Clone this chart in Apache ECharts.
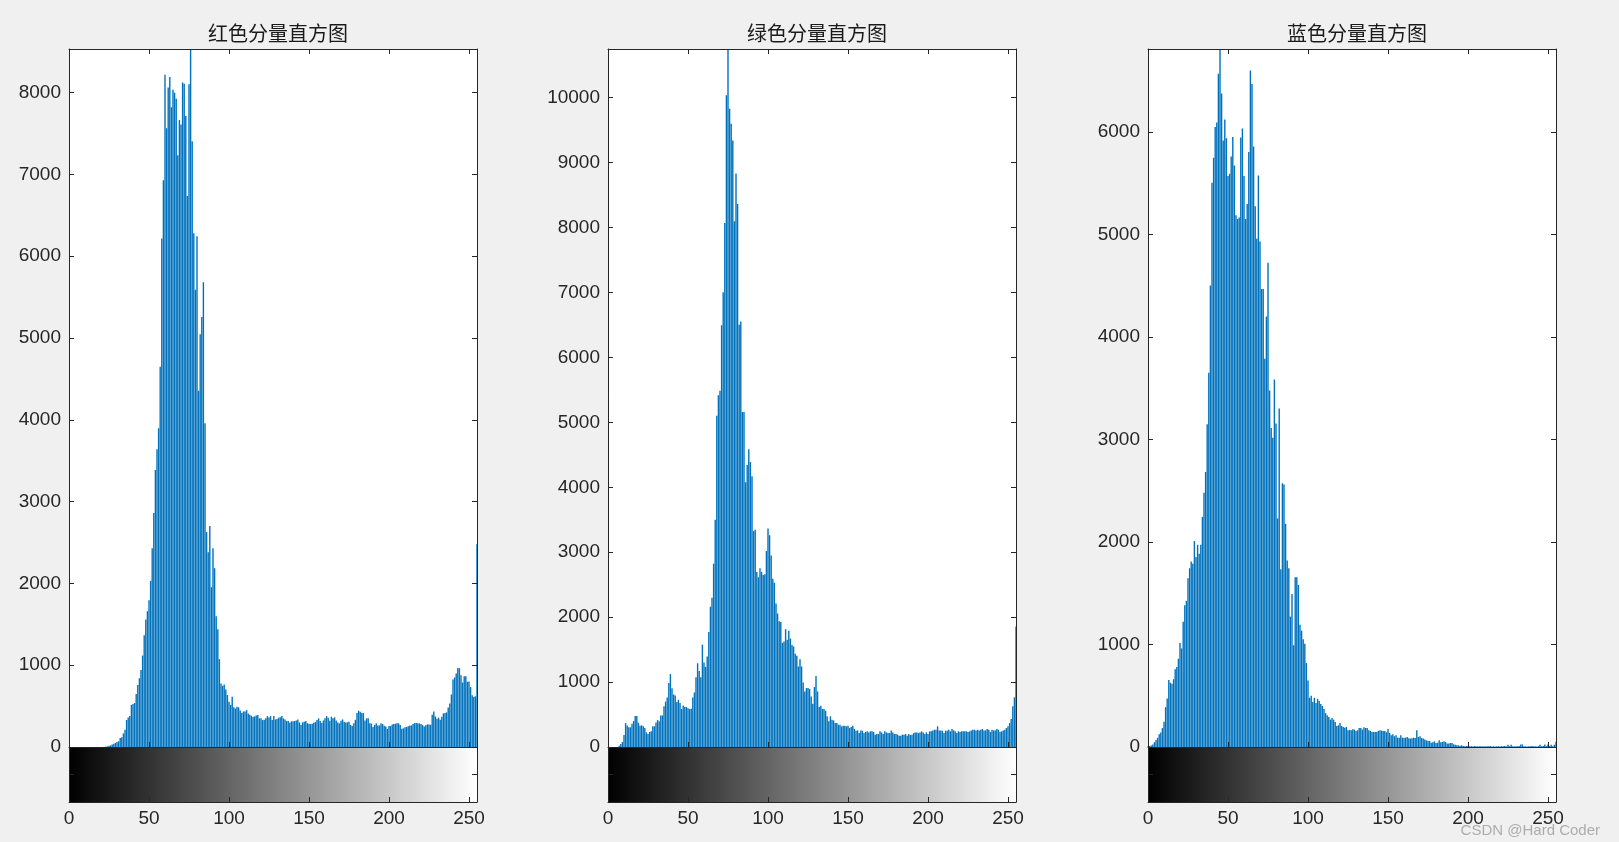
<!DOCTYPE html>
<html>
<head>
<meta charset="utf-8">
<script src="https://cdn.jsdelivr.net/npm/echarts@6/dist/echarts.min.js"></script>
<style>
  html, body { margin: 0; padding: 0; background: #f0f0f0; }
  #chart { width: 1619px; height: 842px; }
</style>
</head>
<body>
<div id="chart"></div>
<script>
const panelTitles = ["红色分量直方图", "绿色分量直方图", "蓝色分量直方图"];

// pixel counts per gray level 0..255
const redCounts = [
  0, 0, 0, 0, 0, 0, 0, 0, 0, 0,
  0, 0, 0, 0, 0, 0, 0, 0, 0, 0,
  0, 0, 0, 3, 8, 14, 20, 30, 40, 50,
  60, 70, 110, 120, 166, 210, 330, 360, 380, 515,
  525, 537, 647, 758, 841, 940, 1118, 1367, 1560, 1660,
  1793, 2031, 2429, 2861, 3387, 3641, 3896, 4649, 6215, 6929,
  8218, 7565, 8063, 8190, 7820, 8036, 7997, 7925, 7233, 7665,
  7609, 8124, 8107, 7714, 6735, 8102, 9300, 7404, 6281, 5589,
  6243, 4355, 5047, 5257, 5683, 3957, 2629, 2380, 2701, 1954,
  2430, 2186, 1599, 1439, 1074, 775, 747, 764, 703, 636,
  553, 515, 614, 487, 470, 492, 484, 445, 415, 435,
  435, 451, 410, 394, 382, 366, 374, 385, 390, 350,
  350, 329, 333, 350, 378, 360, 378, 329, 378, 337,
  341, 358, 365, 378, 350, 337, 317, 317, 297, 313,
  315, 317, 325, 337, 300, 268, 301, 309, 317, 290,
  285, 280, 285, 297, 305, 330, 350, 317, 293, 325,
  350, 378, 358, 321, 370, 350, 362, 325, 300, 289,
  321, 337, 305, 301, 301, 309, 270, 256, 289, 333,
  415, 443, 430, 415, 415, 325, 350, 350, 289, 285,
  244, 270, 289, 264, 264, 289, 280, 260, 252, 220,
  256, 256, 276, 280, 285, 289, 289, 268, 224, 228,
  240, 244, 255, 264, 264, 280, 293, 293, 289, 289,
  280, 268, 252, 265, 276, 276, 272, 394, 435, 374,
  345, 358, 333, 370, 411, 415, 423, 484, 533, 642,
  825, 850, 898, 967, 963, 878, 789, 866, 866, 797,
  801, 732, 634, 610, 620, 2480
];

const greenCounts = [
  0, 0, 0, 0, 0, 0, 0, 20, 46, 77,
  185, 369, 333, 303, 303, 359, 400, 477, 477, 374,
  328, 333, 318, 292, 226, 200, 231, 241, 318, 318,
  379, 415, 395, 487, 487, 626, 700, 764, 985, 1123,
  903, 810, 795, 692, 728, 677, 585, 641, 615, 615,
  595, 585, 590, 764, 841, 1073, 1290, 1171, 1073, 1575,
  1303, 1234, 1394, 1770, 2161, 2300, 2823, 3499, 5102, 5416,
  5485, 6496, 7005, 8071, 10037, 11500, 9828, 9598, 9340, 8099,
  8831, 8364, 6503, 6552, 5158, 5158, 4077, 4342, 4586, 4391,
  4168, 3325, 3346, 2697, 2614, 2753, 2697, 2649, 2662, 3018,
  3367, 3262, 2948, 2593, 2530, 2209, 2056, 1938, 1924, 1603,
  1624, 1815, 1651, 1791, 1671, 1569, 1548, 1436, 1405, 1241,
  1353, 1241, 994, 856, 907, 907, 892, 779, 666, 923,
  1092, 856, 615, 636, 584, 584, 559, 472, 395, 472,
  420, 410, 369, 369, 343, 343, 318, 328, 328, 318,
  328, 292, 307, 328, 277, 251, 256, 215, 256, 251,
  215, 231, 241, 225, 241, 241, 231, 190, 200, 200,
  241, 225, 200, 241, 225, 215, 215, 256, 225, 200,
  200, 190, 174, 174, 190, 190, 200, 174, 200, 184,
  190, 215, 225, 225, 215, 225, 241, 225, 200, 225,
  200, 241, 241, 256, 266, 266, 318, 256, 256, 251,
  215, 251, 251, 266, 241, 277, 256, 241, 215, 241,
  231, 241, 241, 241, 241, 231, 241, 256, 266, 266,
  256, 266, 256, 266, 277, 256, 256, 277, 266, 231,
  266, 256, 256, 277, 266, 231, 241, 256, 266, 292,
  318, 369, 431, 626, 764, 1856
];

const blueCounts = [
  5, 10, 15, 24, 46, 68, 90, 125, 141, 185,
  247, 389, 473, 654, 627, 618, 662, 759, 781, 861,
  1015, 962, 1223, 1382, 1426, 1647, 1744, 1810, 1788, 2009,
  1854, 1973, 1885, 1973, 2245, 2481, 2684, 3148, 3651, 4503,
  5505, 5748, 6048, 6092, 6569, 7200, 6377, 5917, 6123, 5939,
  5571, 5593, 5761, 5951, 5673, 5187, 5152, 5165, 5947, 6035,
  5572, 5152, 5298, 5806, 6600, 6468, 5859, 5276, 4958, 5576,
  4931, 4468, 4468, 3788, 4200, 4724, 3479, 3113, 3016, 3585,
  3157, 2230, 3302, 1735, 2574, 2561, 2177, 1819, 1744, 1272,
  1492, 993, 1656, 1656, 1581, 1192, 1135, 1051, 1007, 820,
  650, 480, 500, 440, 480, 430, 470, 450, 420, 400,
  370, 330, 310, 293, 267, 284, 267, 245, 205, 212,
  235, 205, 196, 189, 196, 163, 167, 163, 173, 170,
  157, 163, 186, 186, 170, 193, 186, 186, 163, 157,
  147, 147, 147, 147, 157, 163, 160, 157, 157, 144,
  176, 137, 114, 124, 105, 114, 91, 91, 114, 91,
  91, 91, 98, 85, 82, 85, 91, 88, 163, 98,
  105, 88, 82, 72, 65, 59, 59, 42, 46, 55,
  39, 42, 65, 46, 49, 55, 49, 33, 33, 39,
  39, 26, 23, 16, 16, 13, 16, 10, 8, 10,
  9, 7, 8, 6, 9, 7, 6, 8, 7, 6,
  7, 6, 8, 7, 9, 6, 7, 6, 8, 7,
  6, 8, 7, 9, 6, 22, 8, 21, 7, 6,
  8, 7, 9, 24, 25, 8, 7, 6, 8, 7,
  9, 7, 8, 6, 8, 22, 7, 9, 24, 8,
  25, 9, 23, 8, 22, 52
];

const channelCounts = [redCounts, greenCounts, blueCounts];
const yAxisMax = [8533, 10750, 6810];
const yTickStep = 1000;
const xTickStep = 50;
const grayRange = [0, 255];

const panelLeft = [69, 608, 1148];
const plotWidth = 408;
const plotTop = 49;
const histHeight = 698;
const strip = 55;

const axisColor = "#262626";
const labelFont = "'Liberation Sans', Arial, Helvetica, sans-serif";

// box-style axis: line + inward ticks, no labels unless overridden
function frameAxis(extra) {
  return Object.assign({
    z: 10,
    axisLine: { show: true, onZero: false, lineStyle: { color: axisColor, width: 1 } },
    axisTick: { show: true, inside: true, length: 5, lineStyle: { color: axisColor, width: 1 } },
    axisLabel: { show: false },
    splitLine: { show: false },
  }, extra);
}

function buildOption() {
  const grid = [];
  const xAxis = [];
  const yAxis = [];
  const series = [];
  const title = [];

  panelTitles.forEach((name, i) => {
    const left = panelLeft[i];
    grid.push({ left, top: plotTop, width: plotWidth, height: histHeight, outerBoundsMode: "none", show: true, backgroundColor: "#ffffff", borderWidth: 0 });
    grid.push({ left, top: plotTop + histHeight, width: plotWidth, height: strip, outerBoundsMode: "none" });

    // histogram axes: bottom, top, colour strip
    xAxis.push(frameAxis({ type: "value", gridIndex: 2 * i, position: "bottom", min: grayRange[0], max: grayRange[1], interval: xTickStep }));
    xAxis.push(frameAxis({ type: "value", gridIndex: 2 * i, position: "top", min: grayRange[0], max: grayRange[1], interval: xTickStep }));
    xAxis.push(frameAxis({
      type: "value", gridIndex: 2 * i + 1, position: "bottom",
      min: grayRange[0], max: grayRange[1], interval: xTickStep,
      axisLabel: {
        show: true, color: axisColor, fontSize: 19, fontFamily: labelFont, margin: 7,
        formatter: (v) => (v % xTickStep === 0 ? String(v) : ""),
      },
    }));

    yAxis.push(frameAxis({
      type: "value", gridIndex: 2 * i, position: "left",
      min: 0, max: yAxisMax[i], interval: yTickStep,
      axisLabel: {
        show: true, color: axisColor, fontSize: 19, fontFamily: labelFont, margin: 8,
        formatter: (v) => (v % yTickStep === 0 ? String(v) : ""),
      },
    }));
    yAxis.push(frameAxis({ type: "value", gridIndex: 2 * i, position: "right", min: 0, max: yAxisMax[i], interval: yTickStep }));
    yAxis.push(frameAxis({ type: "value", gridIndex: 2 * i + 1, position: "left", min: 0, max: 2, interval: 1 }));
    yAxis.push(frameAxis({ type: "value", gridIndex: 2 * i + 1, position: "right", min: 0, max: 2, interval: 1 }));

    series.push({
      type: "bar",
      xAxisIndex: 3 * i,
      yAxisIndex: 4 * i,
      barWidth: 1.4,
      clip: true,
      silent: true,
      itemStyle: { color: "#0072bd" },
      data: channelCounts[i].map((count, level) => [level, count]),
    });

    series.push({
      type: "custom",
      xAxisIndex: 3 * i + 2,
      yAxisIndex: 4 * i + 2,
      silent: true,
      data: [grayRange],
      renderItem: (params, api) => {
        const p0 = api.coord([api.value(0), 0]);
        const p1 = api.coord([api.value(1), 2]);
        return {
          type: "rect",
          shape: { x: p0[0], y: p1[1], width: p1[0] - p0[0], height: p0[1] - p1[1] },
          style: {
            fill: new echarts.graphic.LinearGradient(0, 0, 1, 0, [
              { offset: 0, color: "#000000" },
              { offset: 1, color: "#ffffff" },
            ]),
          },
        };
      },
    });

    title.push({
      text: name,
      left: left + plotWidth / 2,
      top: 18,
      textAlign: "center",
      textStyle: { color: "#1a1a1a", fontSize: 20, fontWeight: "normal", fontFamily: "'Noto Sans CJK SC', sans-serif" },
    });
  });

  title.push({
    text: "CSDN @Hard Coder",
    right: 14,
    top: 818,
    textStyle: { color: "rgba(150, 150, 150, 0.75)", fontSize: 15, fontWeight: "normal", fontFamily: labelFont },
  });

  return {
    backgroundColor: "#f0f0f0",
    animation: false,
    title,
    grid,
    xAxis,
    yAxis,
    series,
  };
}

const chart = echarts.init(document.getElementById("chart"), null, { renderer: "canvas" });
chart.setOption(buildOption());
</script>
</body>
</html>
